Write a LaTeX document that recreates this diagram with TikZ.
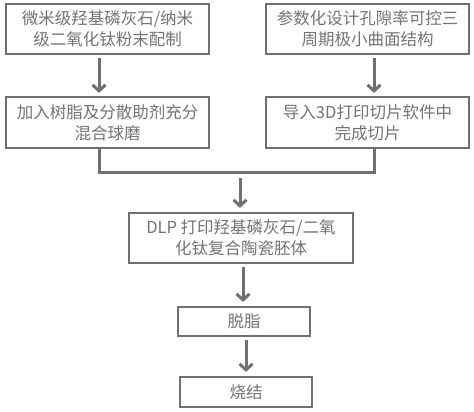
\documentclass[tikz,border=0pt]{standalone}
\usepackage{fontspec}
\setmainfont{Noto Sans CJK SC}
\usetikzlibrary{arrows.meta}
\definecolor{lc}{HTML}{707070}
\definecolor{tc}{HTML}{747474}
\tikzset{
  stepbox/.style={draw=lc, line width=2.2pt, fill=white, text=tc, align=center,
    font=\fontsize{16.5}{21}\selectfont, inner sep=0pt, anchor=center},
  flowarrow/.style={draw=lc, line width=3pt, -{Straight Barb[length=6pt,width=13pt]}},
  joinline/.style={draw=lc, line width=3pt},
}
\begin{document}
\begin{tikzpicture}[x=1pt,y=-1pt]
\useasboundingbox (0,0) rectangle (474,412);
\node[stepbox, minimum width=203pt, minimum height=50pt] (b1) at (107.5,29) {微米级羟基磷灰石/纳米\\级二氧化钛粉末配制};
\node[stepbox, minimum width=203pt, minimum height=50pt] (b2) at (367.5,29) {参数化设计孔隙率可控三\\周期极小曲面结构};
\node[stepbox, minimum width=203pt, minimum height=51pt] (b3) at (107.5,122.5) {加入树脂及分散助剂充分\\混合球磨};
\node[stepbox, minimum width=203pt, minimum height=51pt] (b4) at (367.5,122.5) {导入3D打印切片软件中\\完成切片};
\node[stepbox, minimum width=224pt, minimum height=50pt] (b5) at (241,238) {DLP 打印羟基磷灰石/二氧\\化钛复合陶瓷胚体};
\node[stepbox, minimum width=132pt, minimum height=29pt] (b6) at (244,321.5) {脱脂};
\node[stepbox, minimum width=132pt, minimum height=30pt] (b7) at (246,392) {烧结};
\coordinate (al) at (99,0);
\coordinate (ar) at (374,0);
\coordinate (jl) at (99,172);
\coordinate (jr) at (374,172);
\coordinate (jm) at (240,178);
\coordinate (a56) at (243,0);
\coordinate (a67) at (246,0);
\draw[flowarrow, shorten <=3pt, shorten >=3pt] (b1.south -| al) -- (b3.north -| al);
\draw[flowarrow, shorten <=3pt, shorten >=3pt] (b2.south -| ar) -- (b4.north -| ar);
\draw[joinline] (b3.south -| jl) -- (jl) -- (jr) -- (b4.south -| jr);
\draw[flowarrow, shorten >=4pt] (jm) -- (b5.north -| jm);
\draw[flowarrow, shorten <=3pt, shorten >=4pt] (b5.south -| a56) -- (b6.north -| a56);
\draw[flowarrow, shorten <=3pt, shorten >=4pt] (b6.south -| a67) -- (b7.north -| a67);
\end{tikzpicture}
\end{document}
